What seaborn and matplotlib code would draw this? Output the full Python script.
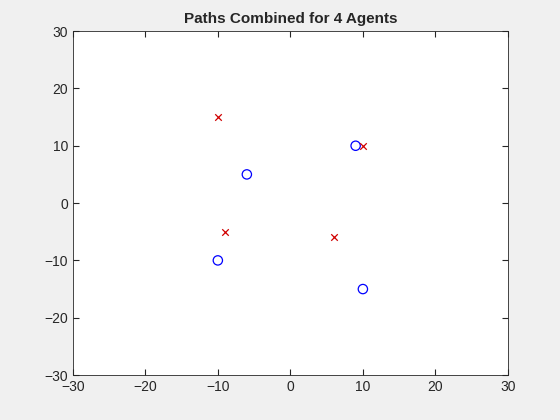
import matplotlib
matplotlib.use("Agg")
import matplotlib.pyplot as plt
import seaborn as sns
import pandas as pd

sns.set_style("white")
plt.rcParams['font.family'] = ['Liberation Sans', 'DejaVu Sans']

start_x = [9, -6, -10, 10]
start_y = [10, 5, -10, -15]
goal_x = [-10, 10, -9, 6]
goal_y = [15, 10, -5, -6]
ticks = [-30, -20, -10, 0, 10, 20, 30]

fig = plt.figure(figsize=(5.6, 4.2), dpi=100, facecolor='#f0f0f0')
ax = fig.add_axes([0.130, 0.107, 0.777, 0.819])
ax.set_facecolor('white')

sns.scatterplot(x=start_x, y=start_y, ax=ax, marker='o', s=45,
                facecolors='none', edgecolor='blue', linewidth=0.9)
sns.scatterplot(x=goal_x, y=goal_y, ax=ax, marker='x', s=22,
                color='#d00000', linewidth=0.9)

ax.set_xlim(-30, 30)
ax.set_ylim(-30, 30)
ax.set_xticks(ticks)
ax.set_yticks(ticks)
ax.tick_params(direction='in', length=4, labelsize=10, colors='#262626',
               top=True, right=True, bottom=True, left=True)
for s in ax.spines.values():
    s.set_color('#262626')
    s.set_linewidth(0.6)
ax.set_title('Paths Combined for 4 Agents', fontsize=11, fontweight='bold', pad=6)
fig.savefig('out.png', dpi=100, facecolor=fig.get_facecolor())
